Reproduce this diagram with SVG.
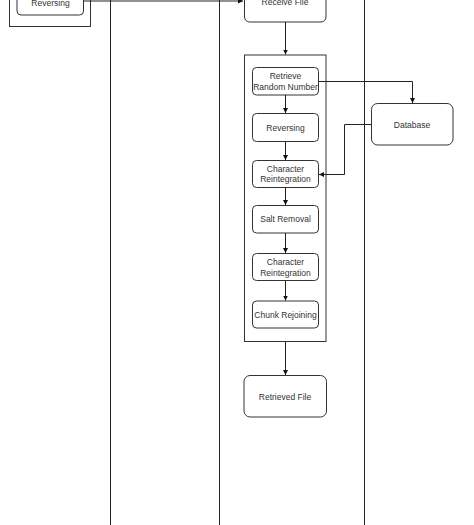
<svg xmlns="http://www.w3.org/2000/svg" width="474" height="525" viewBox="0 0 474 525">
<style>
.b{fill:#fff;stroke:#333;stroke-width:1}
.t{font-family:"Liberation Sans",Arial,sans-serif;font-size:8.5px;fill:#333;text-anchor:middle}
.c{fill:none;stroke:#222;stroke-width:1}
.lane{stroke:#222;stroke-width:1}
</style>
<defs>
<marker id="a" markerWidth="6" markerHeight="6" refX="5" refY="3" orient="auto" markerUnits="userSpaceOnUse">
<path d="M0,0.5 L5,3 L0,5.5 Z" fill="#111"/>
</marker>
</defs>
<rect width="474" height="525" fill="#fff"/>
<g id="lanes">
<line class="lane" x1="110.5" y1="0" x2="110.5" y2="525"/>
<line class="lane" x1="219.5" y1="0" x2="219.5" y2="525"/>
<line class="lane" x1="364.5" y1="0" x2="364.5" y2="525"/>
</g>
<g id="left-group">
<rect class="b" x="9.5" y="-20" width="81" height="46.5"/>
</g>
<g id="reversing-top">
<rect class="b" x="17" y="-15" width="66.5" height="30" rx="4"/>
<text class="t" x="50.5" y="6">Reversing</text>
</g>
<g id="receive-file">
<rect class="b" x="244.5" y="-20" width="81.5" height="42" rx="5"/>
<text class="t" x="285" y="5">Receive File</text>
</g>
<g id="group-box">
<rect class="b" x="244.5" y="55" width="81.5" height="286.5"/>
</g>
<g id="retrieve-random">
<rect class="b" x="252.5" y="67.5" width="66" height="27.5" rx="4"/>
<text class="t" x="285.5" y="79">Retrieve</text>
<text class="t" x="285.5" y="90">Random Number</text>
</g>
<g id="reversing">
<rect class="b" x="252.5" y="113.5" width="66" height="28" rx="4"/>
<text class="t" x="285.5" y="130.5">Reversing</text>
</g>
<g id="char-reint-1">
<rect class="b" x="252.5" y="160.5" width="66" height="27" rx="4"/>
<text class="t" x="285.5" y="171.5">Character</text>
<text class="t" x="285.5" y="182">Reintegration</text>
</g>
<g id="salt-removal">
<rect class="b" x="252.5" y="205.5" width="66" height="27.5" rx="4"/>
<text class="t" x="285.5" y="222">Salt Removal</text>
</g>
<g id="char-reint-2">
<rect class="b" x="252.5" y="253.5" width="66" height="27" rx="4"/>
<text class="t" x="285.5" y="265">Character</text>
<text class="t" x="285.5" y="275.5">Reintegration</text>
</g>
<g id="chunk-rejoining">
<rect class="b" x="252.5" y="301" width="66" height="27" rx="4"/>
<text class="t" x="285.5" y="317.5">Chunk Rejoining</text>
</g>
<g id="database">
<rect class="b" x="371.5" y="103.5" width="81.5" height="41.5" rx="6"/>
<text class="t" x="412" y="127.5">Database</text>
</g>
<g id="retrieved-file">
<rect class="b" x="244" y="375.5" width="82.5" height="41.5" rx="6"/>
<text class="t" x="285" y="399.5">Retrieved File</text>
</g>
<g id="connectors">
<line class="c" x1="83.5" y1="1" x2="243" y2="1" stroke-width="2" marker-end="url(#a)"/>
<line class="c" x1="285.5" y1="22" x2="285.5" y2="54.5" marker-end="url(#a)"/>
<line class="c" x1="285.5" y1="95" x2="285.5" y2="113" marker-end="url(#a)"/>
<line class="c" x1="285.5" y1="141.5" x2="285.5" y2="160" marker-end="url(#a)"/>
<line class="c" x1="285.5" y1="187.5" x2="285.5" y2="205" marker-end="url(#a)"/>
<line class="c" x1="285.5" y1="233" x2="285.5" y2="253" marker-end="url(#a)"/>
<line class="c" x1="285.5" y1="280.5" x2="285.5" y2="300.5" marker-end="url(#a)"/>
<line class="c" x1="285.5" y1="341.5" x2="285.5" y2="375" marker-end="url(#a)"/>
<polyline class="c" points="318.5,81.5 412.5,81.5 412.5,103" marker-end="url(#a)"/>
<polyline class="c" points="371.5,124.5 344.5,124.5 344.5,174.5 319,174.5" marker-end="url(#a)"/>
</g>
</svg>
